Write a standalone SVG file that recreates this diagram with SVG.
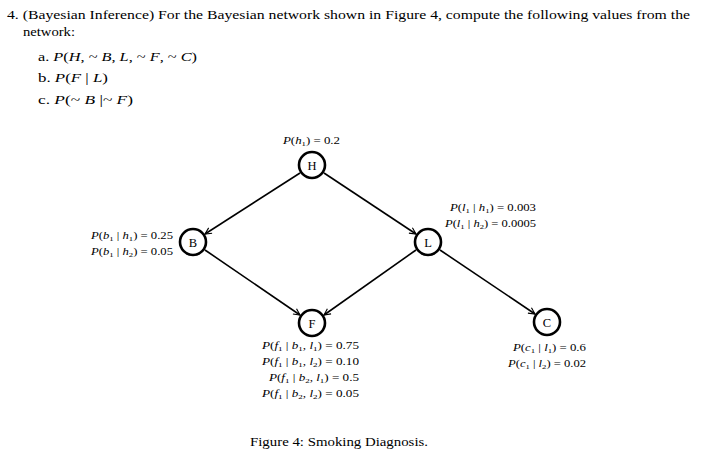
<svg xmlns="http://www.w3.org/2000/svg" width="702" height="458" viewBox="0 0 702 458">
<style>
.t{font-family:"Liberation Serif",serif;font-size:13.5px;fill:#000}
.m{font-family:"Liberation Serif",serif;font-size:9.5px;fill:#000}
.i{font-style:italic}
.s{font-size:6.5px}
.n{fill:#fff;stroke:#000;stroke-width:2.6}
.nl{font-family:"Liberation Serif",serif;font-size:12.5px;text-anchor:middle}
.e{stroke:#000;stroke-width:1.6;fill:none;marker-end:url(#a)}
</style>
<defs><marker id="a" viewBox="0 0 10 10" refX="9" refY="5" markerWidth="8" markerHeight="8" orient="auto" markerUnits="userSpaceOnUse"><path d="M1,1 L9,5 L1,9" fill="none" stroke="#000" stroke-width="1.4"/></marker></defs>
<rect width="702" height="458" fill="#fff"/>
<text class="t" x="7" y="19" textLength="683" lengthAdjust="spacingAndGlyphs">4. (Bayesian Inference) For the Bayesian network shown in Figure 4, compute the following values from the</text>
<text class="t" x="23" y="36" textLength="52" lengthAdjust="spacingAndGlyphs">network:</text>
<text class="t" x="38" y="61" textLength="159" lengthAdjust="spacingAndGlyphs">a. <tspan class="i">P</tspan>(<tspan class="i">H</tspan>, ~ <tspan class="i">B</tspan>, <tspan class="i">L</tspan>, ~ <tspan class="i">F</tspan>, ~ <tspan class="i">C</tspan>)</text>
<text class="t" x="38" y="82" textLength="70" lengthAdjust="spacingAndGlyphs">b. <tspan class="i">P</tspan>(<tspan class="i">F</tspan> | <tspan class="i">L</tspan>)</text>
<text class="t" x="38" y="104" textLength="95" lengthAdjust="spacingAndGlyphs">c. <tspan class="i">P</tspan>(~ <tspan class="i">B</tspan> |~ <tspan class="i">F</tspan>)</text>
<g id="connectors">
<line class="e" x1="300" y1="173" x2="205" y2="234"/>
<line class="e" x1="324" y1="173" x2="416" y2="234"/>
<line class="e" x1="205" y1="250" x2="300" y2="315"/>
<line class="e" x1="416" y1="250" x2="324" y2="315"/>
<line class="e" x1="440" y1="250" x2="535" y2="314"/>
</g>
<g id="H"><circle class="n" cx="312" cy="165" r="13"/><text class="nl" x="312" y="169.5">H</text>
<text class="m" x="283" y="144" textLength="57" lengthAdjust="spacingAndGlyphs"><tspan class="i">P</tspan>(<tspan class="i">h</tspan><tspan class="s" dy="2">1</tspan><tspan dy="-2">) = 0.2</tspan></text></g>
<g id="B"><circle class="n" cx="193" cy="242" r="13"/><text class="nl" x="193" y="246.5">B</text>
<text class="m" x="91" y="239" textLength="82" lengthAdjust="spacingAndGlyphs"><tspan class="i">P</tspan>(<tspan class="i">b</tspan><tspan class="s" dy="2">1</tspan><tspan dy="-2"> | </tspan><tspan class="i">h</tspan><tspan class="s" dy="2">1</tspan><tspan dy="-2">) = 0.25</tspan></text>
<text class="m" x="91" y="255" textLength="82" lengthAdjust="spacingAndGlyphs"><tspan class="i">P</tspan>(<tspan class="i">b</tspan><tspan class="s" dy="2">1</tspan><tspan dy="-2"> | </tspan><tspan class="i">h</tspan><tspan class="s" dy="2">2</tspan><tspan dy="-2">) = 0.05</tspan></text></g>
<g id="L"><circle class="n" cx="428" cy="242" r="13"/><text class="nl" x="428" y="246.5">L</text>
<text class="m" x="450" y="211" textLength="86" lengthAdjust="spacingAndGlyphs"><tspan class="i">P</tspan>(<tspan class="i">l</tspan><tspan class="s" dy="2">1</tspan><tspan dy="-2"> | </tspan><tspan class="i">h</tspan><tspan class="s" dy="2">1</tspan><tspan dy="-2">) = 0.003</tspan></text>
<text class="m" x="445" y="227" textLength="91" lengthAdjust="spacingAndGlyphs"><tspan class="i">P</tspan>(<tspan class="i">l</tspan><tspan class="s" dy="2">1</tspan><tspan dy="-2"> | </tspan><tspan class="i">h</tspan><tspan class="s" dy="2">2</tspan><tspan dy="-2">) = 0.0005</tspan></text></g>
<g id="F"><circle class="n" cx="312" cy="323" r="13"/><text class="nl" x="312" y="327.5">F</text>
<text class="m" x="262" y="349" textLength="97" lengthAdjust="spacingAndGlyphs"><tspan class="i">P</tspan>(<tspan class="i">f</tspan><tspan class="s" dy="2">1</tspan><tspan dy="-2"> | </tspan><tspan class="i">b</tspan><tspan class="s" dy="2">1</tspan><tspan dy="-2">, </tspan><tspan class="i">l</tspan><tspan class="s" dy="2">1</tspan><tspan dy="-2">) = 0.75</tspan></text>
<text class="m" x="262" y="365" textLength="97" lengthAdjust="spacingAndGlyphs"><tspan class="i">P</tspan>(<tspan class="i">f</tspan><tspan class="s" dy="2">1</tspan><tspan dy="-2"> | </tspan><tspan class="i">b</tspan><tspan class="s" dy="2">1</tspan><tspan dy="-2">, </tspan><tspan class="i">l</tspan><tspan class="s" dy="2">2</tspan><tspan dy="-2">) = 0.10</tspan></text>
<text class="m" x="269" y="381" textLength="90" lengthAdjust="spacingAndGlyphs"><tspan class="i">P</tspan>(<tspan class="i">f</tspan><tspan class="s" dy="2">1</tspan><tspan dy="-2"> | </tspan><tspan class="i">b</tspan><tspan class="s" dy="2">2</tspan><tspan dy="-2">, </tspan><tspan class="i">l</tspan><tspan class="s" dy="2">1</tspan><tspan dy="-2">) = 0.5</tspan></text>
<text class="m" x="262" y="397" textLength="97" lengthAdjust="spacingAndGlyphs"><tspan class="i">P</tspan>(<tspan class="i">f</tspan><tspan class="s" dy="2">1</tspan><tspan dy="-2"> | </tspan><tspan class="i">b</tspan><tspan class="s" dy="2">2</tspan><tspan dy="-2">, </tspan><tspan class="i">l</tspan><tspan class="s" dy="2">2</tspan><tspan dy="-2">) = 0.05</tspan></text></g>
<g id="C"><circle class="n" cx="547" cy="322" r="13"/><text class="nl" x="547" y="326.5">C</text>
<text class="m" x="513" y="351" textLength="73" lengthAdjust="spacingAndGlyphs"><tspan class="i">P</tspan>(<tspan class="i">c</tspan><tspan class="s" dy="2">1</tspan><tspan dy="-2"> | </tspan><tspan class="i">l</tspan><tspan class="s" dy="2">1</tspan><tspan dy="-2">) = 0.6</tspan></text>
<text class="m" x="508" y="367" textLength="78" lengthAdjust="spacingAndGlyphs"><tspan class="i">P</tspan>(<tspan class="i">c</tspan><tspan class="s" dy="2">1</tspan><tspan dy="-2"> | </tspan><tspan class="i">l</tspan><tspan class="s" dy="2">2</tspan><tspan dy="-2">) = 0.02</tspan></text></g>
<text class="t" x="250" y="446" textLength="178" lengthAdjust="spacingAndGlyphs">Figure 4: Smoking Diagnosis.</text>
</svg>
